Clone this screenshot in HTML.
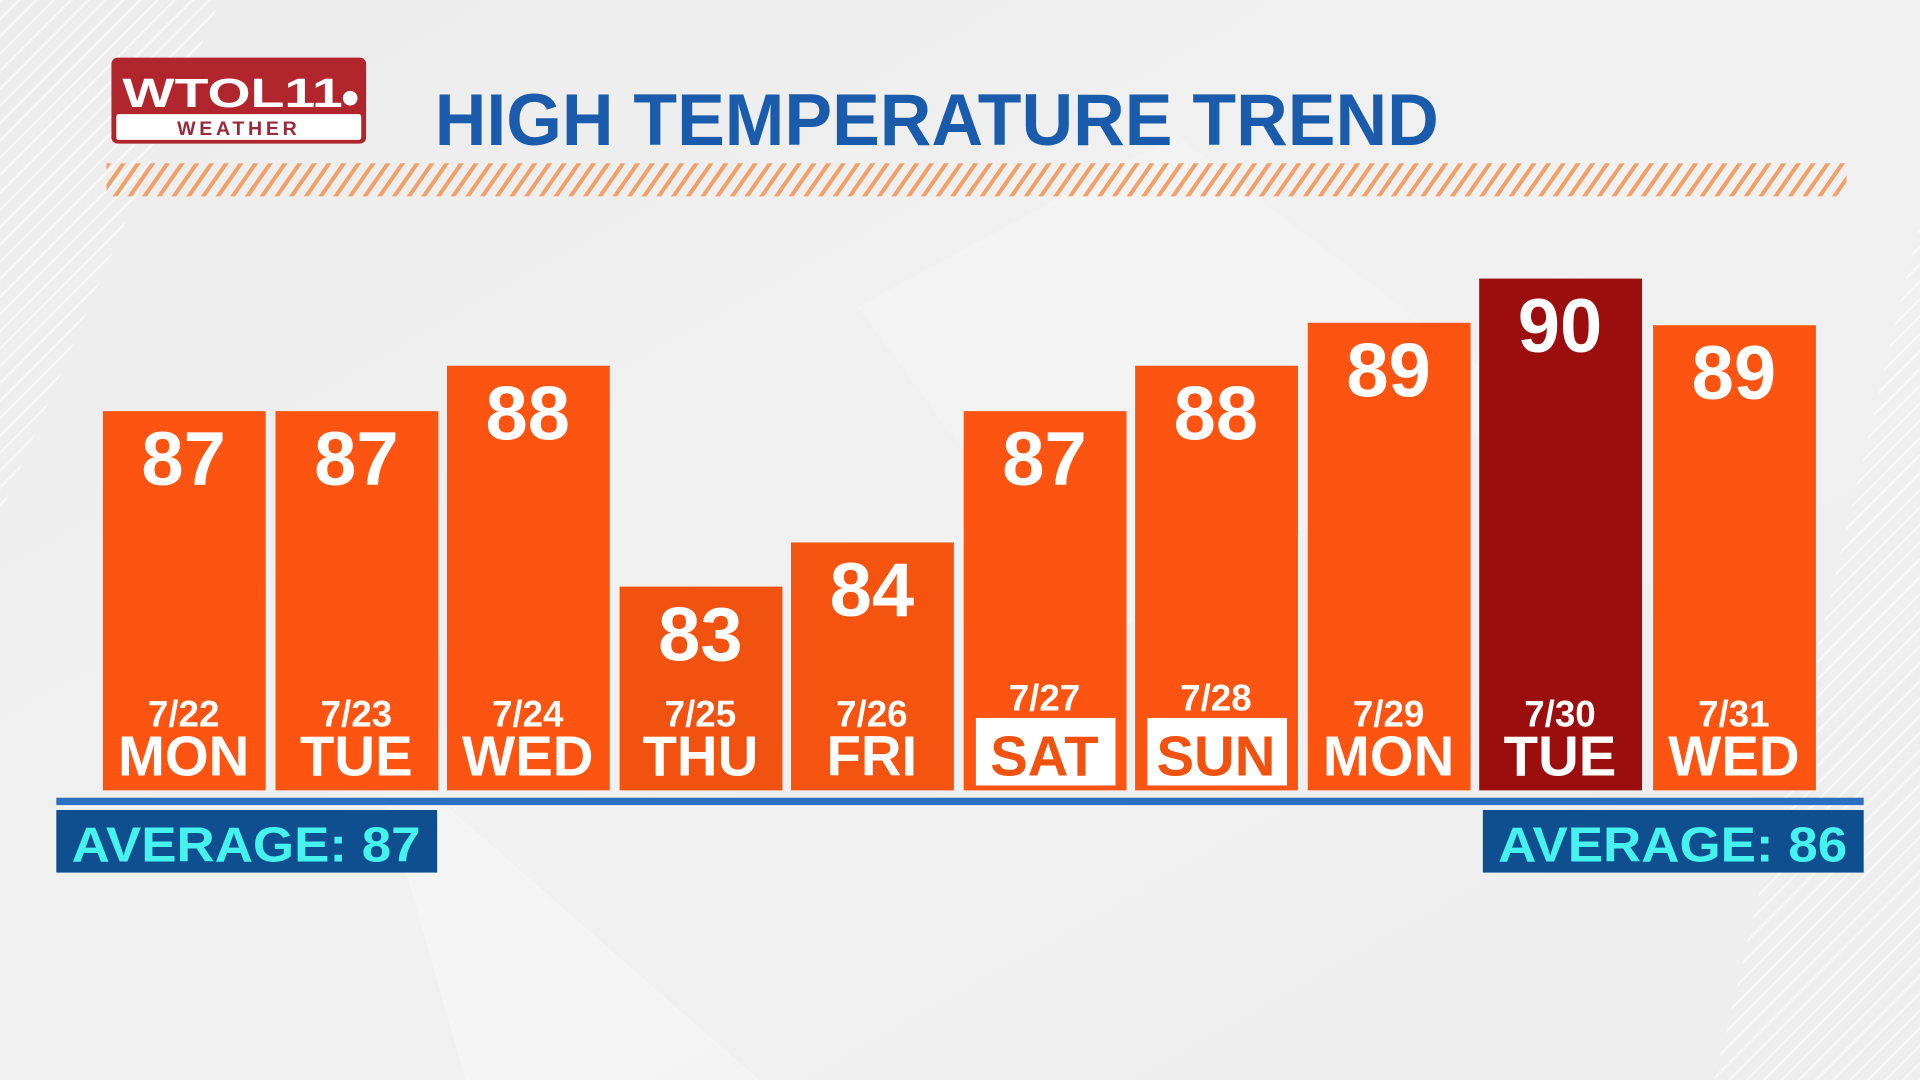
<!DOCTYPE html>
<html><head><meta charset="utf-8"><style>
html,body{margin:0;padding:0;width:1920px;height:1080px;overflow:hidden;background:#eeeeee}
svg{display:block}
text{font-family:"Liberation Sans",sans-serif;font-weight:bold}
</style></head><body>
<svg width="1920" height="1080" viewBox="0 0 1568 880" preserveAspectRatio="none">
<defs>
<pattern id="hatch" width="12" height="28" patternUnits="userSpaceOnUse" patternTransform="skewX(-35)">
<rect x="0" y="0" width="4" height="28" fill="#f2a06a"/>
</pattern>
<pattern id="bgl" width="10" height="10" patternUnits="userSpaceOnUse" patternTransform="rotate(45)">
<rect x="0" y="0" width="2" height="10" fill="#ffffff" opacity="0.6"/>
</pattern>
<linearGradient id="bg" x1="0" y1="0" x2="1" y2="1">
<stop offset="0" stop-color="#ececec"/><stop offset="0.5" stop-color="#f1f1f1"/><stop offset="1" stop-color="#ededed"/>
</linearGradient>
</defs>
<rect width="1568" height="880" fill="url(#bg)"/>
<polygon points="0,0 180,0 0,420" fill="url(#bgl)"/>
<polygon points="1568,180 1568,880 1400,880" fill="url(#bgl)"/>
<polygon points="380,880 620,880 300,600" fill="#f6f6f6" opacity="0.7"/>
<polygon points="700,250 960,110 1250,330 900,520" fill="#f4f4f4" opacity="0.8"/>

<!-- logo -->
<rect x="91" y="47" width="208" height="70" rx="5" fill="#b0262c"/>
<rect x="95" y="93" width="200" height="21" rx="2" fill="#ffffff"/>
<text x="100" y="87" font-size="33" fill="#ffffff" textLength="180" lengthAdjust="spacingAndGlyphs">WTOL11</text>
<circle cx="286" cy="80" r="6" fill="#ffffff"/>
<text x="195" y="110" font-size="16" fill="#9a2a3a" text-anchor="middle" font-weight="normal" letter-spacing="3">WEATHER</text>

<text x="355" y="118" font-size="60" fill="#1a5cab" textLength="820" lengthAdjust="spacingAndGlyphs">HIGH TEMPERATURE TREND</text>
<rect x="87" y="133" width="1421" height="27" fill="url(#hatch)"/>

<!-- bars -->
<g>
<rect x="84" y="335" width="133" height="309" fill="#fd5412"/>
<rect x="225" y="335" width="133" height="309" fill="#fd5412"/>
<rect x="365" y="298" width="133" height="346" fill="#fd5412"/>
<rect x="506" y="478" width="133" height="166" fill="#f2520f"/>
<rect x="646" y="442" width="133" height="202" fill="#f45410"/>
<rect x="787" y="335" width="133" height="309" fill="#fd5412"/>
<rect x="927" y="298" width="133" height="346" fill="#fd5412"/>
<rect x="1068" y="263" width="133" height="381" fill="#fd5412"/>
<rect x="1208" y="227" width="133" height="417" fill="#9c0e0e"/>
<rect x="1350" y="265" width="133" height="379" fill="#fd5412"/>
</g>
<g font-size="62" fill="#ffffff" text-anchor="middle">
<text x="150" y="395">87</text>
<text x="291" y="395">87</text>
<text x="431" y="358">88</text>
<text x="572" y="538">83</text>
<text x="712" y="502">84</text>
<text x="853" y="395">87</text>
<text x="993" y="358">88</text>
<text x="1134" y="323">89</text>
<text x="1274" y="287">90</text>
<text x="1416" y="325">89</text>
</g>
<g font-size="30" fill="#ffffff" text-anchor="middle">
<text x="150" y="592">7/22</text>
<text x="291" y="592">7/23</text>
<text x="431" y="592">7/24</text>
<text x="572" y="592">7/25</text>
<text x="712" y="592">7/26</text>
<text x="853" y="579">7/27</text>
<text x="993" y="579">7/28</text>
<text x="1134" y="592">7/29</text>
<text x="1274" y="592">7/30</text>
<text x="1416" y="592">7/31</text>
</g>
<rect x="797" y="585" width="114" height="55" fill="#ffffff"/>
<rect x="937" y="585" width="114" height="55" fill="#ffffff"/>
<g font-size="46" fill="#ffffff" text-anchor="middle">
<text x="150" y="632">MON</text>
<text x="291" y="632">TUE</text>
<text x="431" y="632">WED</text>
<text x="572" y="632">THU</text>
<text x="712" y="632">FRI</text>
<text x="853" y="632" fill="#f2520f">SAT</text>
<text x="993" y="632" fill="#f2520f">SUN</text>
<text x="1134" y="632">MON</text>
<text x="1274" y="632">TUE</text>
<text x="1416" y="632">WED</text>
</g>

<rect x="46" y="650" width="1476" height="6" fill="#2a6fc0"/>
<rect x="46" y="660" width="311" height="51" fill="#0f4f8f"/>
<rect x="1211" y="660" width="311" height="51" fill="#0f4f8f"/>
<text x="201" y="702" font-size="40" fill="#45f2ee" text-anchor="middle" textLength="285" lengthAdjust="spacingAndGlyphs">AVERAGE: 87</text>
<text x="1366" y="702" font-size="40" fill="#45f2ee" text-anchor="middle" textLength="285" lengthAdjust="spacingAndGlyphs">AVERAGE: 86</text>
</svg>
</body></html>
